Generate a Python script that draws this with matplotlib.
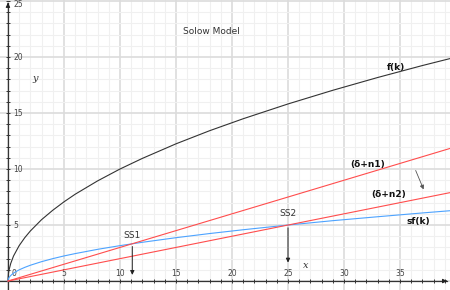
import matplotlib
matplotlib.use('Agg')
import matplotlib.pyplot as plt
from matplotlib.ticker import MultipleLocator

# values
k = [0, 0.05, 0.1, 0.25, 0.5, 1, 1.5, 2, 3, 4, 5, 6, 8, 10, 12, 15, 18, 21, 25, 29, 33, 37, 39.5]
f_k = [0, 0.71, 1.0, 1.58, 2.24, 3.16, 3.87, 4.47, 5.48, 6.32, 7.07, 7.75, 8.94, 10.0, 10.95,
       12.25, 13.42, 14.49, 15.81, 17.03, 18.17, 19.24, 19.87]
sf_k = [0, 0.22, 0.32, 0.5, 0.71, 1.0, 1.22, 1.41, 1.73, 2.0, 2.24, 2.45, 2.83, 3.16, 3.46,
        3.87, 4.24, 4.58, 5.0, 5.39, 5.74, 6.08, 6.28]
line_k = [0, 39.5]
dn1 = [0, 11.85]
dn2 = [0, 7.9]
ss1 = (11.1, 3.33)
ss2 = (25.0, 5.0)
x_ticks = [0, 5, 10, 15, 20, 25, 30, 35]
y_ticks = [5, 10, 15, 20, 25]

fig = plt.figure(figsize=(4.5, 2.9), dpi=100)
ax = fig.add_axes([0, 0, 1, 1])
ax.set_xlim(-0.71, 39.46)
ax.set_ylim(-0.8, 25.09)
for s in ax.spines.values():
    s.set_visible(False)

# grid
ax.xaxis.set_major_locator(MultipleLocator(5))
ax.xaxis.set_minor_locator(MultipleLocator(1))
ax.yaxis.set_major_locator(MultipleLocator(5))
ax.yaxis.set_minor_locator(MultipleLocator(1))
ax.grid(True, which='minor', color='#f0f0f0', lw=0.8)
ax.grid(True, which='major', color='#dcdcdc', lw=1.2)
ax.tick_params(which='both', length=0, labelbottom=False, labelleft=False)
ax.set_axisbelow(True)

# axes with small tick marks
ax.plot([-0.71, 39.2], [0, 0], color='#333333', lw=0.9, zorder=3)
ax.plot([0, 0], [-0.8, 24.8], color='#333333', lw=0.9, zorder=3)
ax.plot(range(1, 40), [0] * 39, ls='none', marker='|', ms=3, mew=0.7, color='#333333', zorder=3)
ax.plot([0] * 25, range(1, 26), ls='none', marker='_', ms=3, mew=0.7, color='#333333', zorder=3)
ax.annotate('', xy=(39.45, 0), xytext=(38.8, 0),
            arrowprops=dict(arrowstyle='-|>', color='#222222', lw=0.8, mutation_scale=6), zorder=4)
ax.annotate('', xy=(0, 25.09), xytext=(0, 24.4),
            arrowprops=dict(arrowstyle='-|>', color='#222222', lw=0.8, mutation_scale=6), zorder=4)

for t in x_ticks:
    ax.text(t + (0.5 if t == 0 else 0), 0.3, str(t), ha='center', va='bottom', fontsize=5.5, color='#444444')
for t in y_ticks:
    ax.text(0.5, min(t, 24.7), str(t), ha='left', va='center', fontsize=5.5, color='#444444')

# curves
ax.plot(k, f_k, color='#333333', lw=0.8, zorder=5)
ax.plot(k, sf_k, color='#4da3ff', lw=0.8, zorder=5)
ax.plot(line_k, dn1, color='#ff4d4d', lw=0.8, zorder=5)
ax.plot(line_k, dn2, color='#ff4d4d', lw=0.8, zorder=5)

# annotations
ax.text(18.2, 22.3, 'Solow Model', fontsize=6.5, ha='center', va='center', color='#333333')
ax.text(2.2, 17.9, 'y', fontsize=7, style='italic', family='serif', color='#333333')
ax.text(26.3, 1.2, 'x', fontsize=7, style='italic', family='serif', color='#333333')
lab = dict(fontsize=6.5, ha='center', va='center', color='#111111', fontweight='semibold')
ax.text(34.6, 19.1, 'f(k)', **lab)
ax.text(32.1, 10.4, '(δ+n1)', **lab)
ax.text(34.0, 7.7, '(δ+n2)', **lab)
ax.text(36.6, 5.3, 'sf(k)', **lab)
ax.text(ss1[0], ss1[1] + 0.75, 'SS1', fontsize=6.5, ha='center', va='center', color='#333333')
ax.text(ss2[0], ss2[1] + 1.05, 'SS2', fontsize=6.5, ha='center', va='center', color='#333333')
ax.annotate('', xy=(ss1[0], 0.3), xytext=ss1,
            arrowprops=dict(arrowstyle='-|>', color='#222222', lw=0.7, mutation_scale=6), zorder=6)
ax.annotate('', xy=(ss2[0], 1.4), xytext=ss2,
            arrowprops=dict(arrowstyle='-|>', color='#222222', lw=0.7, mutation_scale=6), zorder=6)
ax.annotate('', xy=(37.2, 7.95), xytext=(36.3, 10.1),
            arrowprops=dict(arrowstyle='-|>', color='#555555', lw=0.6, mutation_scale=6), zorder=6)

fig.savefig('out.png', dpi=100)
